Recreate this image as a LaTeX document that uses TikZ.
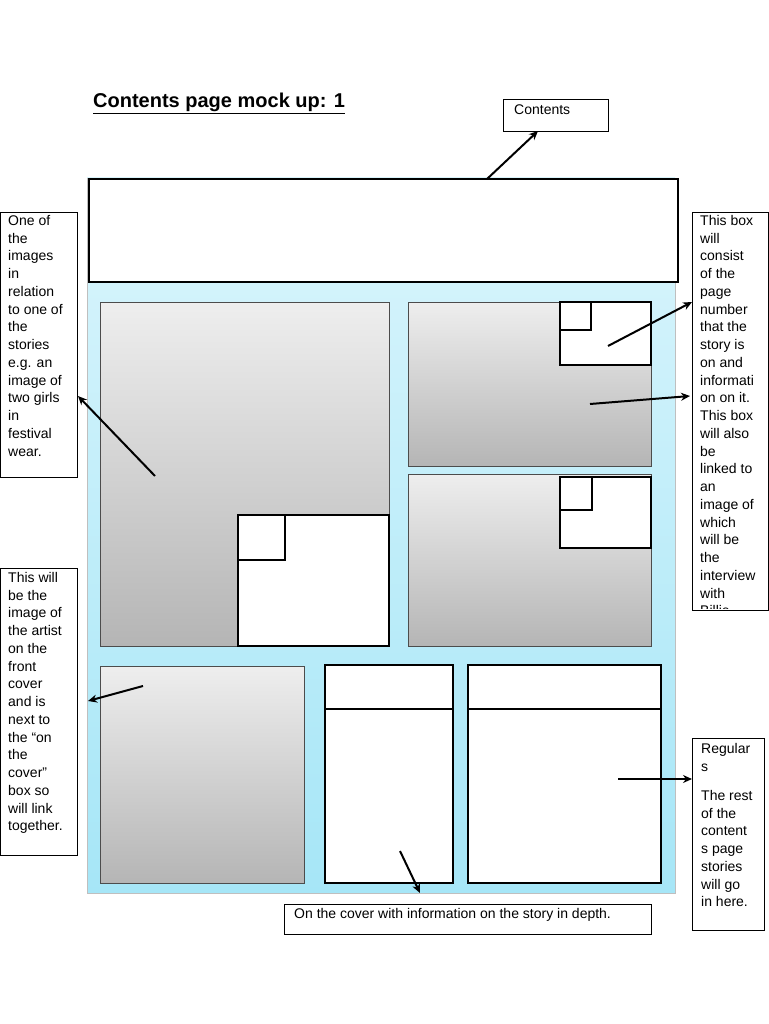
\documentclass[tikz,border=0pt]{standalone}
\usepackage{fontspec}
\setmainfont{Liberation Sans}
\usetikzlibrary{arrows.meta}
\definecolor{bluetop}{HTML}{DAF5FC}
\definecolor{bluebot}{HTML}{A6E6F7}
\definecolor{graytop}{HTML}{EEEEEE}
\definecolor{graybot}{HTML}{B5B5B5}
\begin{document}
\begin{tikzpicture}[x=1pt,y=-1pt,
  grayb/.style={top color=graytop,bottom color=graybot,draw=black!70,line width=0.8pt},
  whiteb/.style={fill=white,draw=black,line width=2pt},
  note/.style={draw=black,line width=0.6pt,fill=white},
  ntext/.style={anchor=north west,align=left,inner sep=0pt,font=\fontsize{14}{17.75}\selectfont},
  arr/.style={-{Stealth[length=9pt,width=8pt]},line width=2pt}]
\useasboundingbox (0,0) rectangle (768,1024);
% title
\node[anchor=base west,inner sep=0pt,font=\fontsize{20}{24}\selectfont\bfseries] (title) at (93,108) {\underline{Contents page mock up: 1}};
% background panel
\fill[top color=bluetop,bottom color=bluebot,draw=black!25] (87,178) rectangle (675,893);
% header
\draw[whiteb] (89,179) rectangle (678,282);
\coordinate (hdr) at (487,179);
% big gray
\draw[grayb] (100,302) rectangle (389,646);
\draw[whiteb] (238,515) rectangle (389,646);
\draw[whiteb] (238,515) rectangle (285,560);
% right top gray
\draw[grayb] (408,302) rectangle (651,466);
\draw[whiteb] (560,302) rectangle (651,365);
\draw[whiteb] (560,302) rectangle (591,330);
% right mid gray
\draw[grayb] (408,474) rectangle (651,646);
\draw[whiteb] (560,477) rectangle (651,548);
\draw[whiteb] (560,477) rectangle (592,510);
% bottom left gray
\draw[grayb] (100,666) rectangle (304,883);
% bottom whites
\draw[whiteb] (325,665) rectangle (453,883);
\draw[line width=2pt] (325,709) -- (453,709);
\draw[whiteb] (468,665) rectangle (661,883);
\draw[line width=2pt] (468,709) -- (661,709);
% contents note
\draw[note] (503,99) rectangle (608,131);
\node[ntext] (contents) at (514,105) {Contents};
\coordinate (cbox) at (538,131);
\draw[arr] (hdr) -- (cbox);
% left note 1
\draw[note] (0,212) rectangle (77,477);
\node[ntext] (l1) at (8,215) {One of\\the\\images\\in\\relation\\to one of\\the\\stories\\e.g. an\\image of\\two girls\\in\\festival\\wear.};
\coordinate (a1s) at (155,476); \coordinate (a1e) at (78,396);
\draw[arr] (a1s) -- (a1e);
% left note 2
\draw[note] (0,568) rectangle (77,855);
\node[ntext] (l2) at (8,572) {This will\\be the\\image of\\the artist\\on the\\front\\cover\\and is\\next to\\the “on\\the\\cover”\\box so\\will link\\together.};
\coordinate (a2s) at (143,686); \coordinate (a2e) at (88,701);
\draw[arr] (a2s) -- (a2e);
% right note 1 (clipped)
\draw[note] (692,212) rectangle (768,610);
\begin{scope}
\clip (692,212) rectangle (768,608);
\node[ntext] (r1) at (700,215) {This box\\will\\consist\\of the\\page\\number\\that the\\story is\\on and\\informati\\on on it.\\This box\\will also\\be\\linked to\\an\\image of\\which\\will be\\the\\interview\\with\\Billie};
\end{scope}
\coordinate (a3s) at (608,346); \coordinate (a3e) at (692,302);
\draw[arr] (a3s) -- (a3e);
\coordinate (a4s) at (590,404); \coordinate (a4e) at (690,396);
\draw[arr] (a4s) -- (a4e);
% right note 2
\draw[note] (692,738) rectangle (764,930);
\node[ntext] (r2a) at (701,743) {Regular\\s};
\node[ntext] (r2b) at (701,790) {The rest\\of the\\content\\s page\\stories\\will go\\in here.};
\coordinate (a5s) at (618,779); \coordinate (a5e) at (692,779);
\draw[arr] (a5s) -- (a5e);
% bottom note
\draw[note] (284,904) rectangle (651,934);
\node[ntext] (bn) at (294,908) {On the cover with information on the story in depth.};
\coordinate (a6s) at (400,851); \coordinate (a6e) at (420,893);
\draw[arr] (a6s) -- (a6e);
\end{tikzpicture}
\end{document}
